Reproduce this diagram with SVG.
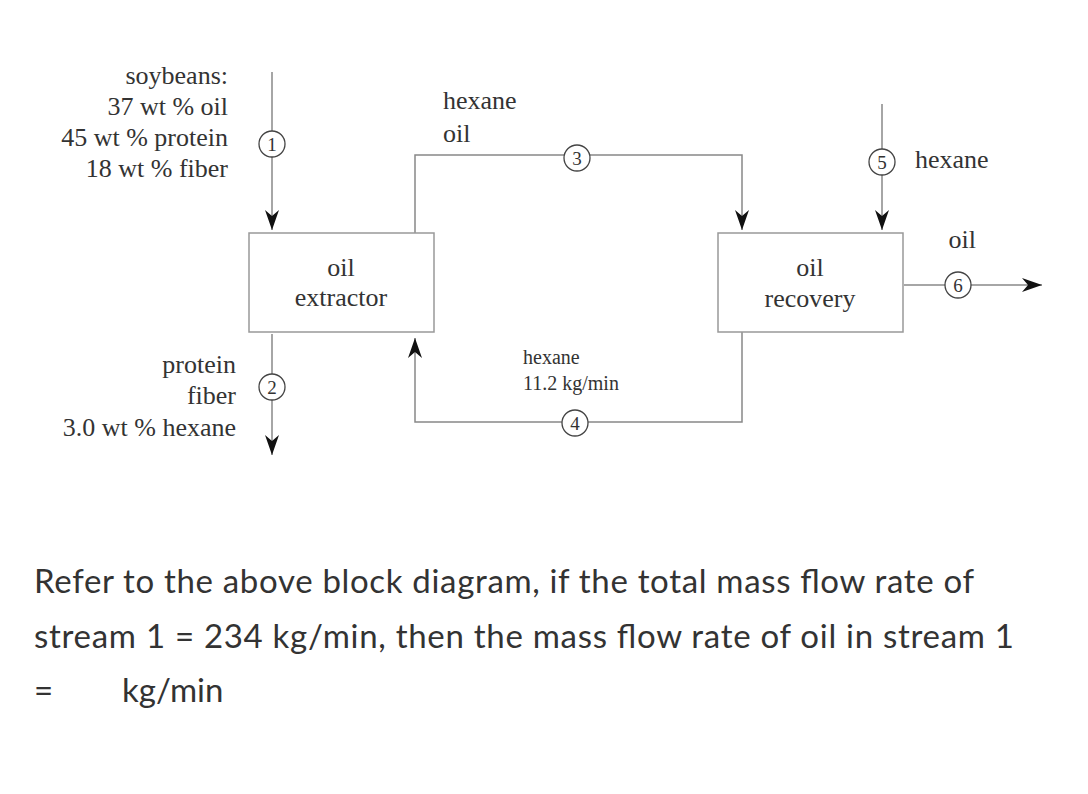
<svg xmlns="http://www.w3.org/2000/svg" width="1088" height="794" viewBox="0 0 1088 794">
<defs>
<style>
.l{stroke:#888;stroke-width:1.5;fill:none}
.b{stroke:#999;stroke-width:1.5;fill:#fff}
.c{stroke:#444;stroke-width:1.3;fill:#fff}
.t{font-family:"Liberation Serif",serif;font-size:26px;fill:#333}
.n{font-family:"Liberation Serif",serif;font-size:19px;fill:#333;text-anchor:middle}
.q{font-family:Lato,sans-serif;font-size:33px;fill:#333}
</style>
<marker id="A" viewBox="0 0 10 10" refX="10" refY="5" markerWidth="20" markerHeight="14" markerUnits="userSpaceOnUse" orient="auto" preserveAspectRatio="none"><path d="M0,0 L10,5 L0,10 L3,5 Z" fill="#111"/></marker>
</defs>
<rect width="1088" height="794" fill="#fff"/>
<g id="connectors">
<line class="l" x1="272" y1="72" x2="272" y2="230" marker-end="url(#A)"/>
<line class="l" x1="272" y1="334" x2="272" y2="455" marker-end="url(#A)"/>
<polyline class="l" points="415,233 415,155 742,155 742,230" marker-end="url(#A)"/>
<polyline class="l" points="742,332 742,422 415,422 415,338" marker-end="url(#A)"/>
<line class="l" x1="882" y1="104" x2="882" y2="230" marker-end="url(#A)"/>
<line class="l" x1="904" y1="285" x2="1042" y2="285" marker-end="url(#A)"/>
</g>
<g id="extractor"><rect class="b" x="249" y="233" width="185" height="99"/><text class="t" x="341" y="276" text-anchor="middle">oil</text><text class="t" x="341" y="306" text-anchor="middle">extractor</text></g>
<g id="recovery"><rect class="b" x="718" y="233" width="185" height="99"/><text class="t" x="810" y="276" text-anchor="middle">oil</text><text class="t" x="810" y="307" text-anchor="middle">recovery</text></g>
<g id="s1"><circle class="c" cx="272" cy="144" r="13"/><text class="n" x="272" y="151">1</text></g>
<g id="s2"><circle class="c" cx="272" cy="387" r="13"/><text class="n" x="272" y="394">2</text></g>
<g id="s3"><circle class="c" cx="577" cy="158" r="13"/><text class="n" x="577" y="165">3</text></g>
<g id="s4"><circle class="c" cx="575" cy="423" r="13"/><text class="n" x="575" y="430">4</text></g>
<g id="s5"><circle class="c" cx="882" cy="162" r="13"/><text class="n" x="882" y="169">5</text></g>
<g id="s6"><circle class="c" cx="958" cy="285" r="13"/><text class="n" x="958" y="292">6</text></g>
<g id="labels">
<text class="t" text-anchor="end"><tspan x="228" y="84">soybeans:</tspan><tspan x="228" y="115">37 wt % oil</tspan><tspan x="228" y="146">45 wt % protein</tspan><tspan x="228" y="177">18 wt % fiber</tspan></text>
<text class="t" text-anchor="end"><tspan x="236" y="373">protein</tspan><tspan x="236" y="404">fiber</tspan><tspan x="236" y="436">3.0 wt % hexane</tspan></text>
<text class="t"><tspan x="443" y="109">hexane</tspan><tspan x="443" y="142">oil</tspan></text>
<text class="t" x="915" y="168">hexane</text>
<text class="t" x="976" y="248" text-anchor="end">oil</text>
<text class="t" style="font-size:20px"><tspan x="523" y="364">hexane</tspan><tspan x="523" y="390">11.2 kg/min</tspan></text>
</g>
<g id="question">
<text class="q" x="34" y="593" textLength="940">Refer to the above block diagram, if the total mass flow rate of</text>
<text class="q" x="34" y="648" textLength="980">stream 1 = 234 kg/min, then the mass flow rate of oil in stream 1</text>
<text class="q" y="702"><tspan x="34">=</tspan><tspan x="122">kg/min</tspan></text>
</g>
</svg>
